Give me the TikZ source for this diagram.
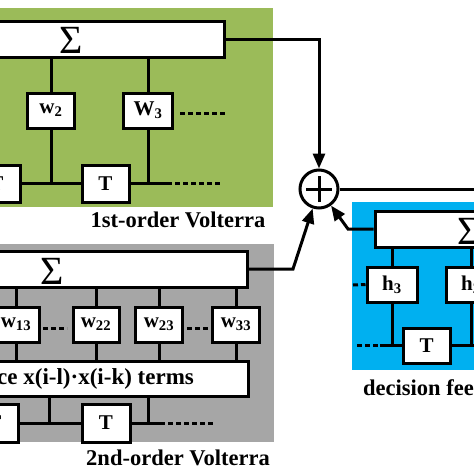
\documentclass[tikz,border=0pt]{standalone}
\usepackage{fontspec}
\setmainfont{Liberation Serif}
\usetikzlibrary{arrows.meta}
\definecolor{voltgreen}{RGB}{155,187,89}
\definecolor{voltgray}{RGB}{166,166,166}
\definecolor{dfeblue}{RGB}{0,176,240}
\tikzset{
  blk/.style={draw, fill=white, line width=3pt, inner sep=0pt, font=\bfseries\fontsize{21}{23}\selectfont},
  wire/.style={line width=3pt},
  dots/.style={line width=3pt, dash pattern=on 5pt off 3pt},
  arr/.style={line width=3pt, -{Triangle[length=15pt,width=12pt]}},
  caplbl/.style={font=\bfseries\fontsize{22.5}{25}\selectfont, inner sep=0pt},
  sig/.style={font=\fontsize{40}{42}\selectfont, inner sep=0pt}
}
\begin{document}
\begin{tikzpicture}[x=1pt,y=-1pt]
\useasboundingbox (0,0) rectangle (474,474);
\clip (0,0) rectangle (474,474);
% backgrounds
\fill[voltgreen] (-10,8) rectangle (273,207);
\fill[voltgray] (-10,244) rectangle (274,442);
\fill[dfeblue] (352,202) rectangle (490,370);

% 1st-order Volterra
\node[blk, minimum width=250pt, minimum height=36pt] (sum1) at (99,39) {};
\node[sig] (sig1) at (71,40) {Σ};
\node[blk, minimum width=47pt, minimum height=35pt] (w2) at (51,110.5) {w\textsubscript{2}};
\node[blk, minimum width=49pt, minimum height=35pt] (w3) at (148,110.5) {W\textsubscript{3}};
\node[blk, minimum width=47pt, minimum height=37pt] (t1a) at (-3.5,183.5) {T};
\node[blk, minimum width=47pt, minimum height=37pt] (t1b) at (105.5,183.5) {T};
\coordinate (d1a) at (180,113);
\coordinate (d1b) at (227,113);
\coordinate (e1a) at (167,183.5);
\coordinate (e1b) at (220,183.5);
\draw[wire] (w2.north |- sum1.south) -- (w2.north);
\draw[wire] (w3.north |- sum1.south) -- (w3.north);
\draw[wire] (w2.south) -- (w2.south |- t1a.east);
\draw[wire] (w3.south) -- (w3.south |- t1a.east);
\draw[wire] (t1a.east) -- (t1b.west);
\draw[wire] (t1b.east) -- (e1a);
\draw[dots] (e1a) -- (e1b);
\draw[dots] (d1a) -- (d1b);
\node[caplbl, anchor=base] (cap1) at (178,227) {1st-order Volterra};

% 2nd-order Volterra
\node[blk, minimum width=267pt, minimum height=36pt] (sum2) at (113.5,269) {};
\node[sig] (sig2) at (52,271) {Σ};
\node[blk, minimum width=46pt, minimum height=35pt] (w13) at (16,324.5) {w\textsubscript{13}};
\node[blk, minimum width=46pt, minimum height=35pt] (w22) at (96,324.5) {w\textsubscript{22}};
\node[blk, minimum width=47pt, minimum height=35pt] (w23) at (159,324.5) {w\textsubscript{23}};
\node[blk, minimum width=47pt, minimum height=35pt] (w33) at (236,324.5) {w\textsubscript{33}};
\node[blk, minimum width=268pt, minimum height=35pt] (terms) at (114,378.5) {};
\node[caplbl, anchor=west, font=\bfseries\fontsize{23}{25}\selectfont] (termslbl) at (-3,378.5) {ce x(i-l)·x(i-k) terms};
\node[blk, minimum width=47pt, minimum height=38pt] (t2a) at (-5.5,423) {T};
\node[blk, minimum width=48pt, minimum height=38pt] (t2b) at (106,423) {T};
\coordinate (d2a) at (43,328);
\coordinate (d2b) at (67,328);
\coordinate (d2c) at (187,328);
\coordinate (d2d) at (209,328);
\coordinate (v2a) at (49,400);
\coordinate (v2b) at (148,400);
\coordinate (e2a) at (160,423);
\coordinate (e2b) at (215,423);
\foreach \w in {w13,w22,w23,w33} {
  \draw[wire] (\w.north |- sum2.south) -- (\w.north);
  \draw[wire] (\w.south) -- (\w.south |- terms.north);
}
\draw[dots] (d2a) -- (d2b);
\draw[dots] (d2c) -- (d2d);
\draw[wire] (v2a |- terms.south) -- (v2a |- t2a.east);
\draw[wire] (v2b |- terms.south) -- (v2b |- t2a.east);
\draw[wire] (t2a.east) -- (t2b.west);
\draw[wire] (t2b.east) -- (e2a);
\draw[dots] (e2a) -- (e2b);
\node[caplbl, anchor=base] (cap2) at (178,465) {2nd-order Volterra};

% decision feedback
\node[blk, minimum width=145pt, minimum height=36pt] (sum3) at (447.5,229) {};
\node[sig] (sig3) at (469,231) {Σ};
\node[blk, minimum width=50pt, minimum height=35pt] (h3) at (392,284.5) {h\textsubscript{3}};
\node[blk, minimum width=50pt, minimum height=35pt] (h2) at (471,284.5) {h\textsubscript{2}};
\node[blk, minimum width=47pt, minimum height=35pt] (t3) at (426.5,345.5) {T};
\coordinate (d3a) at (353,285);
\coordinate (e3a) at (357,345.5);
\coordinate (e3b) at (380,345.5);
\coordinate (e3c) at (490,345.5);
\draw[wire] (h3.north |- sum3.south) -- (h3.north);
\draw[wire] (h2.north |- sum3.south) -- (h2.north);
\draw[wire] (h3.south) -- (h3.south |- t3.west);
\draw[wire] (h2.south) -- (h2.south |- t3.east);
\draw[dots] (d3a) -- (h3.west);
\draw[dots] (e3a) -- (e3b);
\draw[wire] (e3b) -- (t3.west);
\draw[wire] (t3.east) -- (e3c);
\node[caplbl, anchor=base west] (cap3) at (363,395) {decision fee};

% adder
\node[draw, circle, line width=3pt, minimum size=38pt, inner sep=0pt] (add) at (319,189) {};
\draw[wire] ([xshift=-13pt]add.center) -- ([xshift=13pt]add.center);
\draw[wire] ([yshift=-13pt]add.center) -- ([yshift=13pt]add.center);
\coordinate (k2) at (293,269);
\coordinate (k3) at (348,229);
\coordinate (out) at (490,189);
\draw[arr] (sum1.east) -- (sum1.east -| add.north) -- (add.north);
\draw[arr] (sum2.east) -- (k2) -- (add);
\draw[arr] (sum3.west) -- (k3) -- (add);
\draw[wire] (add.east) -- (out);
\end{tikzpicture}
\end{document}
